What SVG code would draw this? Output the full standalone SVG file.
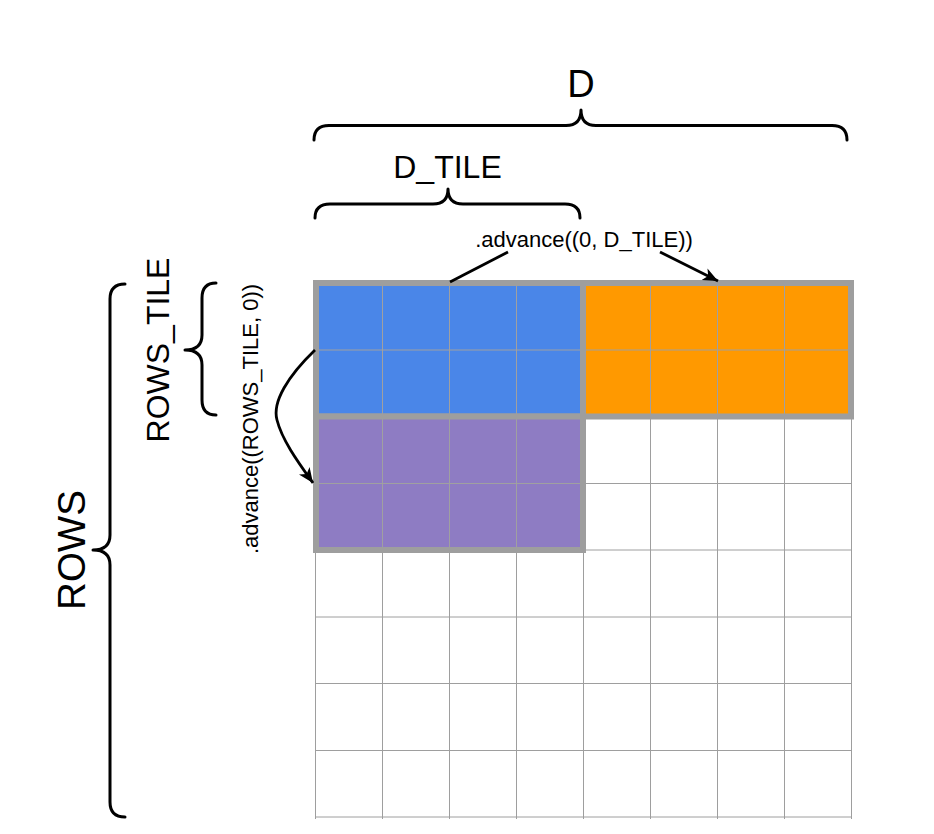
<svg xmlns="http://www.w3.org/2000/svg" width="934" height="834" viewBox="0 0 934 834">
  <style>
    text { font-family: "Liberation Sans", Arial, sans-serif; fill: #000; }
    .grid { stroke: #9e9e9e; stroke-width: 1; fill: none; }
    .inner { stroke: #a0a0a0; stroke-width: 1; fill: none; }
    .border { fill: none; stroke: #9e9e9e; stroke-width: 6; }
    .brace { fill: none; stroke: #000; stroke-width: 3; stroke-linecap: round; stroke-linejoin: round; }
    .conn { fill: none; stroke: #000; stroke-width: 2.8; }
  </style>
  <defs>
    <marker id="arrow" markerUnits="userSpaceOnUse" markerWidth="16" markerHeight="14" refX="15" refY="7" orient="auto">
      <path d="M0,0.5 L15,7 L0,13.5 L4,7 Z" fill="#000"/>
    </marker>
  </defs>
  <rect x="0" y="0" width="934" height="834" fill="#fff"/>

  <g id="grid">
    <path class="grid" d="M315.5,283 V819 M382.5,283 V819 M449.5,283 V819 M516.5,283 V819 M583.5,283 V819 M650.5,283 V819 M717.5,283 V819 M784.5,283 V819 M851.5,283 V819"/>
    <path class="grid" d="M315,283.5 H852 M315,350 H852 M315,416.5 H852 M315,483.5 H852 M315,550 H852 M315,617 H852 M315,683.5 H852 M315,750.5 H852 M315,817 H852"/>
  </g>

  <g id="tile-blue">
    <rect x="316" y="283" width="267" height="133.5" fill="#4a86e8"/>
    <path class="inner" d="M382.5,283 V416.5 M449.5,283 V416.5 M516.5,283 V416.5 M316,350 H583"/>
    <rect class="border" x="316" y="283" width="267" height="133.5"/>
  </g>

  <g id="tile-orange">
    <rect x="583" y="283" width="268" height="133.5" fill="#ff9900"/>
    <path class="inner" d="M650.5,283 V416.5 M717.5,283 V416.5 M784.5,283 V416.5 M583,350 H851"/>
    <rect class="border" x="583" y="283" width="268" height="133.5"/>
  </g>

  <g id="tile-purple">
    <rect x="316" y="416.5" width="267" height="133.5" fill="#8e7cc3"/>
    <path class="inner" d="M382.5,416.5 V550 M449.5,416.5 V550 M516.5,416.5 V550 M316,483.5 H583"/>
    <rect class="border" x="316" y="416.5" width="267" height="133.5"/>
  </g>

  <g id="brace-D">
    <path class="brace" d="M314,140 Q314,125.5 329,125.5 L566,125.5 Q581,125.5 581,110 Q581,125.5 596,125.5 L832,125.5 Q847,125.5 847,140"/>
    <text x="581" y="97" font-size="38" text-anchor="middle">D</text>
  </g>

  <g id="brace-D_TILE">
    <path class="brace" d="M315,218 Q315,204 330,204 L433,204 Q448,204 448,189 Q448,204 463,204 L565,204 Q580,204 580,218"/>
    <text x="447.5" y="178" font-size="32" text-anchor="middle">D_TILE</text>
  </g>

  <g id="brace-ROWS_TILE">
    <path class="brace" d="M216,283 Q202,283 202,298 L202,335 Q202,350 185,350 Q202,350 202,365 L202,400 Q202,415 216,415"/>
    <text transform="translate(169,350) rotate(-90)" font-size="32" text-anchor="middle">ROWS_TILE</text>
  </g>

  <g id="brace-ROWS">
    <path class="brace" d="M125,284 Q110,284 110,299 L110,535 Q110,550 93,550 Q110,550 110,565 L110,802 Q110,817 125,817"/>
    <text transform="translate(85,550) rotate(-90)" font-size="38.5" text-anchor="middle">ROWS</text>
  </g>

  <g id="connectors">
    <path class="conn" d="M450,282 L508,252"/>
    <path class="conn" d="M660,252 L718,281" marker-end="url(#arrow)"/>
    <text x="584" y="247" font-size="22" text-anchor="middle">.advance((0, D_TILE))</text>
    <path class="conn" d="M315,350 C288,376 272,402 277,420 C282,440 298,462 313,483" marker-end="url(#arrow)"/>
    <text transform="translate(258,419) rotate(-90)" font-size="22" text-anchor="middle">.advance((ROWS_TILE, 0))</text>
  </g>
</svg>
